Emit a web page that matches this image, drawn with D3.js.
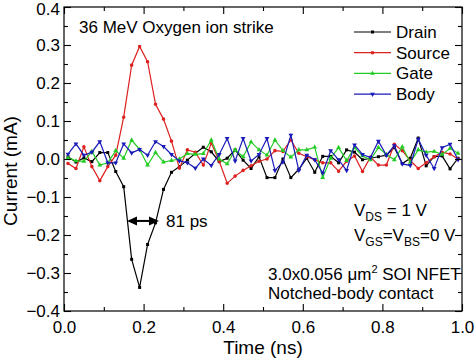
<!DOCTYPE html>
<html><head><meta charset="utf-8">
<script src="https://cdn.jsdelivr.net/npm/d3@7"></script>
<style>body{margin:0;background:#fff}svg{display:block;font-family:"Liberation Sans",Arial,sans-serif}</style>
</head><body>
<svg id="c" width="474" height="361"></svg>
<script>
const times = d3.range(50).map(k => +(0.01 + 0.02 * k).toFixed(2));
const drain = [0.006,-0.008,0.003,-0.007,0.017,0.017,-0.033,-0.073,-0.264,-0.338,-0.225,-0.168,-0.08,-0.035,-0.02,-0.003,0.015,0.031,0.019,-0.007,0.002,0.024,-0.003,-0.025,0.006,-0.049,-0.049,0.0,-0.049,-0.027,0.002,-0.035,0.007,0.007,-0.01,0.024,0.018,-0.002,0.002,0.006,0.01,0.03,-0.012,0.002,0.055,-0.018,0.006,0.008,-0.026,0.002];
const source = [-0.012,-0.025,0.032,-0.02,-0.057,-0.02,0.01,0.11,0.247,0.296,0.256,0.144,0.105,0.047,-0.024,0.024,0.018,-0.016,0.042,-0.006,-0.064,-0.045,-0.03,-0.018,-0.006,0.0,0.022,0.02,0.05,0.015,0.006,-0.002,-0.01,-0.01,-0.032,-0.006,0.008,-0.033,0.005,-0.016,-0.016,0.039,0.022,-0.004,-0.025,-0.01,0.006,0.018,0.013,0.0];
const gate = [0.003,-0.005,-0.006,0.02,-0.016,-0.01,0.022,0.002,0.05,0.025,-0.016,0.017,-0.008,-0.004,0.0,0.014,0.012,0.014,0.05,0.0,-0.013,0.024,0.006,0.045,0.024,0.01,0.05,0.022,0.005,0.024,0.024,0.031,-0.049,0.002,0.03,-0.004,0.03,0.008,-0.002,0.03,0.012,-0.002,0.032,-0.009,0.024,0.018,0.02,0.012,0.028,0.015];
const body = [0.013,0.04,0.01,0.018,0.046,-0.01,-0.01,0.04,0.016,0.025,0.01,0.046,0.033,0.012,-0.005,-0.01,-0.024,0.0,-0.017,0.012,0.054,-0.005,0.054,-0.005,0.012,0.054,-0.03,-0.008,0.063,-0.03,0.01,-0.002,-0.037,0.022,-0.002,-0.03,0.037,0.012,0.004,0.047,0.01,0.035,-0.013,-0.017,0.052,0.01,-0.025,0.03,0.039,-0.002];
const seriesNames = ["Drain","Source","Gate","Body"];
const xTicks = [0.0,0.2,0.4,0.6,0.8,1.0];
const yTicks = [-0.4,-0.3,-0.2,-0.1,0.0,0.1,0.2,0.3,0.4];

const svg = d3.select("#c");
const L = 64, R = 462, T = 7, B = 311;
const x = d3.scaleLinear().domain([0,1]).range([L,R]);
const y = d3.scaleLinear().domain([-0.4,0.4]).range([B,T]);

const series = [
  {name:seriesNames[0], vals:drain, color:"#000000", sym:d3.symbolSquare, size:9, rot:0},
  {name:seriesNames[1], vals:source, color:"#dd2020", sym:d3.symbolCircle, size:10, rot:0},
  {name:seriesNames[2], vals:gate, color:"#22cc22", sym:d3.symbolTriangle, size:10, rot:0},
  {name:seriesNames[3], vals:body, color:"#1a1ab8", sym:d3.symbolTriangle, size:10, rot:180}
];

svg.append("clipPath").attr("id","clip").append("rect").attr("x",L).attr("y",T).attr("width",R-L).attr("height",B-T);

const g = svg.append("g").attr("clip-path","url(#clip)");
const line = d3.line().x(d=>x(d[0])).y(d=>y(d[1]));
series.forEach(s => {
  const pts = times.map((t,i)=>[t,s.vals[i]]);
  g.append("path").attr("d",line(pts)).attr("fill","none").attr("stroke",s.color).attr("stroke-width",1.2);
  g.selectAll(null).data(pts).enter().append("path")
    .attr("d", d3.symbol().type(s.sym).size(s.size))
    .attr("transform", d=>`translate(${x(d[0])},${y(d[1])}) rotate(${s.rot})`)
    .attr("fill", s.color);
});

// frame
svg.append("rect").attr("x",L).attr("y",T).attr("width",R-L).attr("height",B-T)
  .attr("fill","none").attr("stroke","#000").attr("stroke-width",1.2);

// axes with inward ticks
const fs = 17;
const xAx = d3.axisBottom(x).tickValues(xTicks).tickSize(-7).tickPadding(10).tickFormat(d3.format(".1f"));
svg.append("g").attr("transform",`translate(0,${B})`).call(xAx);
svg.append("g").attr("transform",`translate(0,${T})`).call(d3.axisTop(x).tickValues(xTicks).tickSize(-7).tickFormat(""));
const xMinor = d3.range(0.1,1,0.2);
svg.append("g").attr("transform",`translate(0,${B})`).call(d3.axisBottom(x).tickValues(xMinor).tickSize(-4).tickFormat(""));
svg.append("g").attr("transform",`translate(0,${T})`).call(d3.axisTop(x).tickValues(xMinor).tickSize(-4).tickFormat(""));

const yAx = d3.axisLeft(y).tickValues(yTicks).tickSize(-7).tickPadding(4).tickFormat(d3.format(".1f"));
const yg = svg.append("g").attr("transform",`translate(${L},0)`).call(yAx);
svg.append("g").attr("transform",`translate(${R},0)`).call(d3.axisRight(y).tickValues(yTicks).tickSize(-7).tickFormat(""));
const yMinor = d3.range(-0.35,0.4,0.1);
svg.append("g").attr("transform",`translate(${L},0)`).call(d3.axisLeft(y).tickValues(yMinor).tickSize(-4).tickFormat(""));
svg.append("g").attr("transform",`translate(${R},0)`).call(d3.axisRight(y).tickValues(yMinor).tickSize(-4).tickFormat(""));

svg.selectAll(".domain").remove();
svg.selectAll(".tick line").attr("stroke","#000").attr("stroke-width",1.1);
svg.selectAll(".tick text").attr("font-size",fs).attr("fill","#000").attr("font-family",'"Liberation Sans",Arial,sans-serif');
yg.selectAll(".tick text").filter(d => d === 0.4).attr("dy","0.45em");

// axis titles
svg.append("text").attr("x",(L+R)/2).attr("y",354).attr("text-anchor","middle").attr("font-size",19).text("Time (ns)");
svg.append("text").attr("transform",`translate(17,${171}) rotate(-90)`).attr("text-anchor","middle").attr("font-size",19).text("Current (mA)");

// annotations
svg.append("text").attr("x",79).attr("y",33).attr("font-size",fs).text("36 MeV Oxygen ion strike");

// legend
const lg = svg.append("g");
series.forEach((s,i)=>{
  const yy = 32 + i*20.7;
  lg.append("line").attr("x1",354).attr("x2",391).attr("y1",yy).attr("y2",yy).attr("stroke",s.color).attr("stroke-width",1.2);
  lg.append("path").attr("d",d3.symbol().type(s.sym).size(s.size)).attr("transform",`translate(372.5,${yy}) rotate(${s.rot})`).attr("fill",s.color);
  lg.append("text").attr("x",396).attr("y",yy+6).attr("font-size",fs).text(s.name);
});

// 81 ps arrow
const ay = y(-0.163);
const ax1 = 127, ax2 = 159;
svg.append("line").attr("x1",ax1+6).attr("x2",ax2-6).attr("y1",ay).attr("y2",ay).attr("stroke","#000").attr("stroke-width",2);
svg.append("path").attr("d",`M${ax1},${ay} L${ax1+10},${ay-4.5} L${ax1+10},${ay+4.5} Z`).attr("fill","#000");
svg.append("path").attr("d",`M${ax2},${ay} L${ax2-10},${ay-4.5} L${ax2-10},${ay+4.5} Z`).attr("fill","#000");
svg.append("text").attr("x",166).attr("y",ay+6).attr("font-size",fs).text("81 ps");

// bias text
const t1 = svg.append("text").attr("x",354).attr("y",216).attr("font-size",fs);
t1.append("tspan").text("V");
t1.append("tspan").attr("font-size",12).attr("dy",5).text("DS");
t1.append("tspan").attr("dy",-5).text(" = 1 V");
const t2 = svg.append("text").attr("x",354).attr("y",241).attr("font-size",fs);
t2.append("tspan").text("V");
t2.append("tspan").attr("font-size",12).attr("dy",5).text("GS");
t2.append("tspan").attr("dy",-5).text("=V");
t2.append("tspan").attr("font-size",12).attr("dy",5).text("BS");
t2.append("tspan").attr("dy",-5).text("=0 V");

const t3 = svg.append("text").attr("x",268).attr("y",280).attr("font-size",fs);
t3.append("tspan").text("3.0x0.056 ");
t3.append("tspan").text("\u03bcm");
t3.append("tspan").attr("font-size",11).attr("dy",-7).text("2");
t3.append("tspan").attr("dy",7).text(" SOI NFET");
svg.append("text").attr("x",268).attr("y",299).attr("font-size",fs).text("Notched-body contact");
</script>
</body></html>
